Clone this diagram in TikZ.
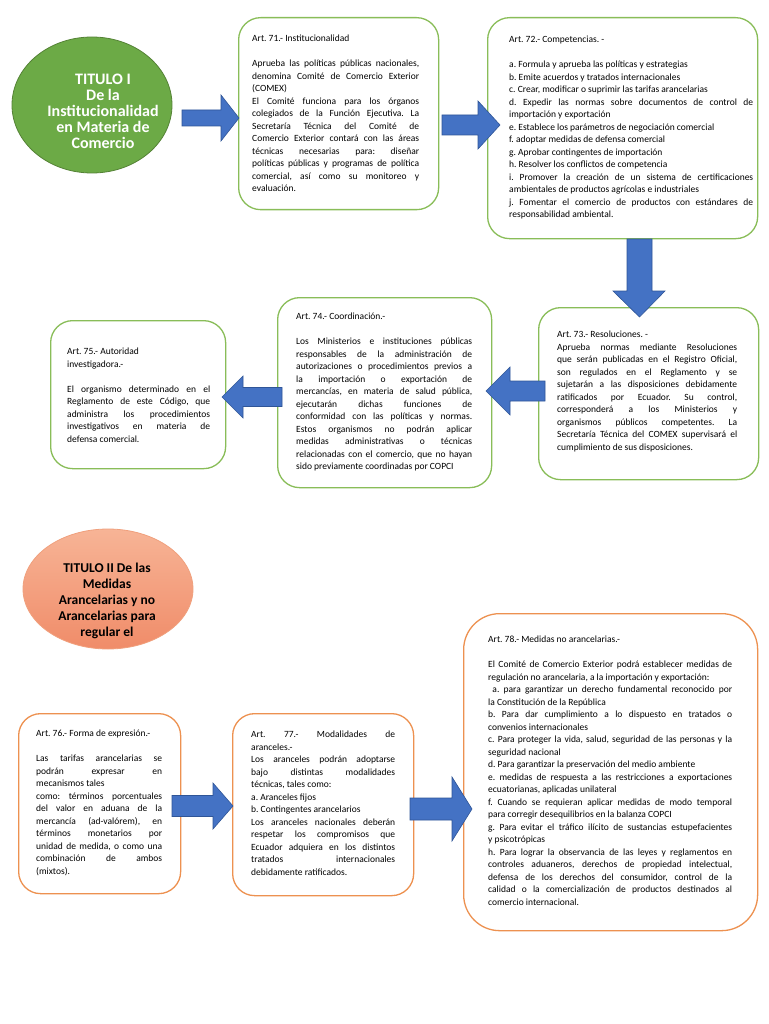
\documentclass[tikz,border=0pt]{standalone}
\usepackage{fontspec}
\setmainfont{Carlito}
\usetikzlibrary{shapes.geometric}
\definecolor{gline}{RGB}{137,189,88}
\definecolor{oline}{RGB}{237,145,80}
\definecolor{gfill}{RGB}{108,170,70}
\definecolor{gedge}{RGB}{84,130,53}
\definecolor{ablue}{RGB}{68,114,196}
\definecolor{aedge}{RGB}{47,85,151}
\definecolor{ptop}{RGB}{247,180,150}
\definecolor{pbot}{RGB}{240,140,105}
\definecolor{pedge}{RGB}{240,160,125}
\newcommand\rarr[6]{\draw[arr] (#1,#4-#5) -- (#2,#4-#5) -- (#2,#4-#6) -- (#3,#4) -- (#2,#4+#6) -- (#2,#4+#5) -- (#1,#4+#5) -- cycle;}
\newcommand\lb{\linebreak}
\newcommand\boxfont{\fontsize{9.5}{12.5}\selectfont\frenchspacing\hyphenpenalty=10000\relax\exhyphenpenalty=10000\relax}
\begin{document}
\begin{tikzpicture}[x=1pt,y=-1pt,
  gbox/.style={draw=gline, line width=1.3pt, rounded corners=22pt, fill=white, anchor=north west},
  obox/.style={draw=oline, line width=1.3pt, rounded corners=22pt, fill=white, anchor=north west},
  txt/.style={anchor=north west, inner sep=0pt, align=justify, text=black, font=\boxfont},
  arr/.style={fill=ablue, draw=aedge, line width=0.6pt},
  title/.style={align=center, inner sep=0pt}]
\useasboundingbox (0,0) rectangle (768,1024);
\fill[white] (0,0) rectangle (768,1024);

% ---- TITULO I ----
\node[ellipse, draw=gedge, line width=0.8pt, fill=gfill, minimum width=160pt, minimum height=136pt] (t1) at (92,105) {};
\node[title, text=white, font=\fontsize{16}{16}\selectfont\bfseries] (t1txt) at (103,111) {TITULO I\\De la\\Institucionalidad\\en Materia de\\Comercio};

% ---- boxes row 1 ----
\node[gbox, minimum width=200pt, minimum height=192pt] (b71) at (238,17) {};
\node[txt, text width=167pt] (x71) at (252,35) {Art. 71.- Institucionalidad\par\leavevmode\par
Aprueba las políticas públicas nacionales,\lb denomina Comité de Comercio Exterior\lb (COMEX)\par
El Comité funciona para los órganos\lb colegiados de la Función Ejecutiva. La\lb Secretaría Técnica del Comité de\lb Comercio Exterior contará con las áreas\lb técnicas necesarias para: diseñar\lb políticas públicas y programas de política\lb comercial, así como su monitoreo y\lb evaluación.};

\node[gbox, minimum width=270pt, minimum height=221pt] (b72) at (487,17) {};
\node[txt, text width=244pt] (x72) at (509,36) {Art. 72.- Competencias. -\par\leavevmode\par
a. Formula y aprueba las políticas y estrategias\par
b. Emite acuerdos y tratados internacionales\par
c. Crear, modificar o suprimir las tarifas arancelarias\par
d. Expedir las normas sobre documentos de control de\lb importación y exportación\par
e. Establece los parámetros de negociación comercial\par
f. adoptar medidas de defensa comercial\par
g. Aprobar contingentes de importación\par
h. Resolver los conflictos de competencia\par
i. Promover la creación de un sistema de certificaciones\lb ambientales de productos agrícolas e industriales\par
j. Fomentar el comercio de productos con estándares de\lb responsabilidad ambiental.};

% ---- boxes row 2 ----
\node[gbox, minimum width=220pt, minimum height=172pt] (b73) at (538,307) {};
\node[txt, text width=180pt] (x73) at (557,331) {Art. 73.- Resoluciones. -\par
Aprueba normas mediante Resoluciones\lb que serán publicadas en el Registro Oficial,\lb son regulados en el Reglamento y se\lb sujetarán a las disposiciones debidamente\lb ratificados por Ecuador. Su control,\lb corresponderá a los Ministerios y\lb organismos públicos competentes. La\lb Secretaría Técnica del COMEX supervisará el\lb cumplimiento de sus disposiciones.};

\node[gbox, minimum width=214pt, minimum height=190pt] (b74) at (277,297) {};
\node[txt, text width=176pt] (x74) at (296,313) {Art. 74.- Coordinación.-\par\leavevmode\par
Los Ministerios e instituciones públicas\lb responsables de la administración de\lb autorizaciones o procedimientos previos a\lb la importación o exportación de\lb mercancías, en materia de salud pública,\lb ejecutarán dichas funciones de\lb conformidad con las políticas y normas.\lb Estos organismos no podrán aplicar\lb medidas administrativas o técnicas\lb relacionadas con el comercio, que no hayan\lb sido previamente coordinadas por COPCI};

\node[gbox, minimum width=175pt, minimum height=148pt] (b75) at (50,320) {};
\node[txt, text width=143pt] (x75) at (67,348) {Art. 75.- Autoridad\\investigadora.-\par\leavevmode\par
El organismo determinado en el\lb Reglamento de este Código, que\lb administra los procedimientos\lb investigativos en materia de\lb defensa comercial.};

% ---- TITULO II ----
\node[ellipse, draw=pedge, line width=0.8pt, top color=ptop, bottom color=pbot, minimum width=170pt, minimum height=120pt] (t2) at (108,589) {};
\node[title, text=black, font=\fontsize{13.5}{16}\selectfont\bfseries] (t2txt) at (107,601) {TITULO II De las\\Medidas\\Arancelarias y no\\Arancelarias para\\regular el};

% ---- boxes row 3 ----
\node[obox, minimum width=162pt, minimum height=180pt] (b76) at (18,713) {};
\node[txt, text width=126pt] (x76) at (36,730) {Art. 76.- Forma de expresión.-\par\leavevmode\par
Las tarifas arancelarias se\lb podrán expresar en\lb mecanismos tales\\como: términos porcentuales\lb del valor en aduana de la\lb mercancía (ad-valórem), en\lb términos monetarios por\lb unidad de medida, o como una\lb combinación de ambos\lb (mixtos).};

\node[obox, minimum width=181pt, minimum height=182pt] (b77) at (232,713) {};
\node[txt, text width=144pt] (x77) at (251,731) {Art. 77.- Modalidades de\lb aranceles.-\par
Los aranceles podrán adoptarse\lb bajo distintas modalidades\lb técnicas, tales como:\par
a. Aranceles fijos\par
b. Contingentes arancelarios\par
Los aranceles nacionales deberán\lb respetar los compromisos que\lb Ecuador adquiera en los distintos\lb tratados internacionales\lb debidamente ratificados.};

\node[obox, rounded corners=36pt, minimum width=294pt, minimum height=317pt] (b78) at (463,613) {};
\node[txt, text width=244pt] (x78) at (488,636) {Art. 78.- Medidas no arancelarias.-\par\leavevmode\par
El Comité de Comercio Exterior podrá establecer medidas de\lb regulación no arancelaria, a la importación y exportación:\par
\ a. para garantizar un derecho fundamental reconocido por\lb la Constitución de la República\par
b. Para dar cumplimiento a lo dispuesto en tratados o\lb convenios internacionales\par
c. Para proteger la vida, salud, seguridad de las personas y la\lb seguridad nacional\par
d. Para garantizar la preservación del medio ambiente\par
e. medidas de respuesta a las restricciones a exportaciones\lb ecuatorianas, aplicadas unilateral\par
f. Cuando se requieran aplicar medidas de modo temporal\lb para corregir desequilibrios en la balanza COPCI\par
g. Para evitar el tráfico ilícito de sustancias estupefacientes\lb y psicotrópicas\par
h. Para lograr la observancia de las leyes y reglamentos en\lb controles aduaneros, derechos de propiedad intelectual,\lb defensa de los derechos del consumidor, control de la\lb calidad o la comercialización de productos destinados al\lb comercio internacional.};

% ---- block arrows ----
\rarr{182}{221}{239}{118}{8}{23}
\rarr{442}{478}{500}{125}{10}{24}
\draw[arr] (627,239) -- (652,239) -- (652,291) -- (665,291) -- (639.5,317) -- (613,291) -- (627,291) -- cycle;
\rarr{545}{510}{486}{391}{10}{24}
\rarr{282}{243}{222}{397}{9.5}{21}
\rarr{172}{213}{233}{806}{10.5}{23}
\rarr{410}{452}{472}{809}{11}{32}
\end{tikzpicture}
\end{document}
